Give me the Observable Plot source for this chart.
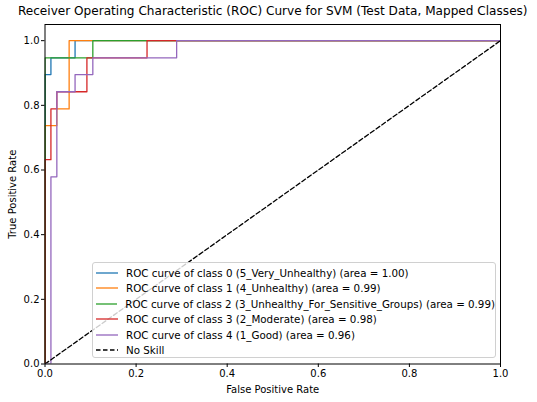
<!DOCTYPE html>
<html lang="en">
<head>
<meta charset="UTF-8">
<title>ROC Curve for SVM</title>
<script src="https://d3js.org/d3.v7.min.js"></script>
<script src="https://cdn.jsdelivr.net/npm/@observablehq/plot@0.6"></script>
<style>
  body { margin: 0; background: white; }
  #wrap { position: relative; width: 537px; height: 402px; font-family: "DejaVu Sans", sans-serif; }
  #legend {
    position: absolute; left: 92px; top: 262px; width: 404px; height: 96px;
    background: rgba(255,255,255,0.8); border: 1px solid #d0d0d0; border-radius: 3px;
    box-sizing: border-box; padding: 2px 0 0 3px; font-size: 10.3px; color: black;
  }
  .row { display: flex; align-items: center; height: 15.5px; white-space: nowrap; }
  .row svg { margin-right: 8px; }
</style>
</head>
<body>
<div id="wrap">
  <div id="chart"></div>
  <div id="legend"></div>
</div>
<script>
// roc_curve output per class (fpr, tpr)
const classNames = [
  "ROC curve of class 0 (5_Very_Unhealthy)",
  "ROC curve of class 1 (4_Unhealthy)",
  "ROC curve of class 2 (3_Unhealthy_For_Sensitive_Groups)",
  "ROC curve of class 3 (2_Moderate)",
  "ROC curve of class 4 (1_Good)"
];
const areas = [1.00, 0.99, 0.99, 0.98, 0.96];
const colors = ["#1f77b4", "#ff7f0e", "#2ca02c", "#d62728", "#9467bd"];

const fpr0 = [0, 0, 0.013, 0.013, 0.066, 0.066, 1];
const tpr0 = [0, 0.895, 0.895, 0.947, 0.947, 1, 1];

const fpr1 = [0, 0, 0.026, 0.026, 0.053, 0.053, 1];
const tpr1 = [0, 0.737, 0.737, 0.789, 0.789, 1, 1];

const fpr2 = [0, 0, 0.105, 0.105, 1];
const tpr2 = [0, 0.947, 0.947, 1, 1];

const fpr3 = [0, 0, 0.013, 0.013, 0.026, 0.026, 0.092, 0.092, 0.224, 0.224, 1];
const tpr3 = [0, 0.632, 0.632, 0.789, 0.789, 0.842, 0.842, 0.947, 0.947, 1, 1];

const fpr4 = [0, 0.013, 0.013, 0.026, 0.026, 0.066, 0.066, 0.105, 0.105, 0.289, 0.289, 1];
const tpr4 = [0, 0, 0.579, 0.579, 0.842, 0.842, 0.895, 0.895, 0.947, 0.947, 1, 1];

const noSkill = [0, 1];
const ticks = [0, 0.2, 0.4, 0.6, 0.8, 1.0];

const fprs = [fpr0, fpr1, fpr2, fpr3, fpr4];
const tprs = [tpr0, tpr1, tpr2, tpr3, tpr4];

const curves = fprs.map((f, i) => f.map((x, j) => ({x, y: tprs[i][j], k: i})));

const plot = Plot.plot({
  width: 537,
  height: 402,
  marginLeft: 44.5,
  marginRight: 37,
  marginTop: 24,
  marginBottom: 38.5,
  style: {fontFamily: "DejaVu Sans", fontSize: "10px", color: "black", background: "white"},
  x: {domain: [0, 1]},
  y: {domain: [0, 1.05]},
  marks: [
    ...curves.map((c, i) => Plot.line(c, {x: "x", y: "y", stroke: colors[i], strokeWidth: 1.3, clip: true})),
    Plot.line(noSkill.map(v => ({x: v, y: v})), {x: "x", y: "y", stroke: "black", strokeWidth: 1.3, strokeDasharray: "4.5,2.5", clip: true}),
    Plot.frame({stroke: "black", strokeWidth: 1}),
    Plot.axisX({ticks, tickFormat: ".1f", tickSize: 3.5, tickPadding: 2, label: "False Positive Rate",
      labelAnchor: "center", labelArrow: "none", labelOffset: 29, fontSize: 10}),
    Plot.axisY({ticks, tickFormat: ".1f", tickSize: 3.5, tickPadding: 2, label: "True Positive Rate",
      labelAnchor: "center", labelArrow: "none", labelOffset: 36, fontSize: 10}),
    Plot.text(["Receiver Operating Characteristic (ROC) Curve for SVM (Test Data, Mapped Classes)"],
      {frameAnchor: "top", dy: -10, fontSize: 12.1, text: d => d, lineAnchor: "bottom"})
  ]
});
document.getElementById("chart").appendChild(plot);

// legend
const legend = d3.select("#legend");
classNames.forEach((name, i) => {
  const row = legend.append("div").attr("class", "row");
  const s = row.append("svg").attr("width", 22).attr("height", 6);
  s.append("line").attr("x1", 0).attr("x2", 22).attr("y1", 3).attr("y2", 3)
    .attr("stroke", colors[i]).attr("stroke-width", 1.3);
  row.append("span").text(`${name} (area = ${areas[i].toFixed(2)})`);
});
const last = legend.append("div").attr("class", "row");
const s2 = last.append("svg").attr("width", 22).attr("height", 6);
s2.append("line").attr("x1", 0).attr("x2", 22).attr("y1", 3).attr("y2", 3)
  .attr("stroke", "black").attr("stroke-width", 1.3).attr("stroke-dasharray", "4.5,2.5");
last.append("span").text("No Skill");
</script>
</body>
</html>
